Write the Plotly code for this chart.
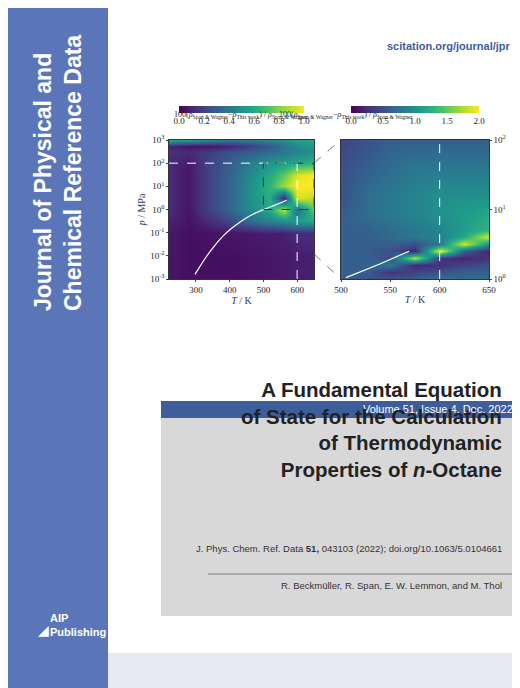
import plotly.graph_objects as go

# left panel grid: T / K and log10(p / MPa)
t_left = [220, 280, 340, 400, 460, 520, 560, 600, 650]
lp_left = [-3, -2, -1, -0.5, 0, 0.5, 1, 1.5, 2, 2.5, 2.75, 3]
z_left = [
    [.06, .04, .04, .04, .05, .06, .07, .08, .09],
    [.06, .04, .04, .04, .05, .06, .07, .08, .09],
    [.07, .04, .05, .06, .07, .08, .09, .12, .14],
    [.10, .05, .12, .22, .35, .45, .50, .55, .60],
    [.12, .06, .20, .32, .48, .60, .90, .35, .75],
    [.12, .06, .20, .32, .50, .62, .10, .95, .90],
    [.12, .06, .20, .32, .50, .65, .85, 1.0, 1.0],
    [.12, .06, .20, .32, .48, .60, .75, .95, 1.0],
    [.12, .07, .20, .30, .42, .52, .55, .60, .65],
    [.14, .12, .18, .25, .30, .35, .40, .45, .50],
    [.10, .05, .06, .10, .18, .28, .38, .48, .55],
    [.60, .55, .45, .40, .42, .45, .50, .55, .60],
]

# right panel (zoom) grid
t_right = [500, 525, 550, 575, 600, 625, 650]
lp_right = [0, 0.1, 0.2, 0.3, 0.4, 0.5, 0.6, 0.7, 0.9, 1.2, 1.6, 2]
z_right = [
    [.6, .5, .5, .6, .7, .7, .7],
    [.6, .6, .3, .4, .5, .6, .6],
    [.6, .6, .8, .2, .3, .4, .5],
    [.6, .6, .5, 1.8, .3, .2, .3],
    [.6, .6, .5, .2, 2.0, .6, .2],
    [.6, .6, .6, .5, .8, 1.9, 1.0],
    [.6, .6, .7, .8, .9, 1.2, 1.9],
    [.6, .6, .7, .8, .9, 1.1, 1.3],
    [.6, .7, .8, .9, 1.0, 1.1, 1.2],
    [.5, .7, .8, .9, 1.0, 1.0, 1.0],
    [.5, .6, .7, .8, .8, .8, .8],
    [.4, .5, .6, .6, .6, .6, .6],
]

# vapour pressure curve
t_vap = [297, 310, 330, 356, 380, 405, 430, 455, 480, 505, 540, 569]
lp_vap = [-2.8, -2.5, -2.05, -1.55, -1.15, -0.82, -0.55, -0.31, -0.13, 0.02, 0.22, 0.4]

W, H = 520, 688
def fx(px): return px / W
def fy(py): return 1 - py / H

serif = "Liberation Serif"
sans = "Liberation Sans"

fig = go.Figure()
fig.add_trace(go.Heatmap(x=t_left, y=lp_left, z=z_left, zsmooth="best", coloraxis="coloraxis",
                         xaxis="x", yaxis="y"))
fig.add_trace(go.Scatter(x=t_vap, y=lp_vap, mode="lines", line=dict(color="white", width=1.2, shape="spline"),
                         xaxis="x", yaxis="y", showlegend=False))
fig.add_trace(go.Heatmap(x=t_right, y=lp_right, z=z_right, zsmooth="best", coloraxis="coloraxis2",
                         xaxis="x2", yaxis="y2"))
fig.add_trace(go.Scatter(x=t_vap[9:], y=lp_vap[9:], mode="lines", line=dict(color="white", width=1.2),
                         xaxis="x2", yaxis="y2", showlegend=False))

cb_title = "100(<i>ρ</i><sub>Span & Wagner</sub>−<i>ρ</i><sub>This work</sub>) / <i>ρ</i><sub>Span & Wagner</sub>"
def cbar(x0, x1):
    return dict(orientation="h", x=fx((x0 + x1) / 2), xanchor="center", len=fx(x1 - x0), lenmode="fraction",
                y=fy(125), yanchor="bottom", thickness=7, outlinewidth=0,
                ticklabelposition="outside top", ticks="", tickfont=dict(family=serif, size=9, color="#222"))

ax_common = dict(showgrid=False, zeroline=False, ticks="outside", ticklen=2, mirror=True, showline=True,
                 linecolor="#333", linewidth=0.6, tickfont=dict(family=serif, size=9, color="#222"))
fig.update_layout(
    width=W, height=H, margin=dict(l=0, r=0, t=0, b=0, autoexpand=False), paper_bgcolor="white", plot_bgcolor="white",
    showlegend=False,
    coloraxis=dict(colorscale="Viridis", cmin=0, cmax=1, colorbar=dict(**cbar(161, 306), tickvals=[0, .2, .4, .6, .8, 1], ticktext=["0.0", "0.2", "0.4", "0.6", "0.8", "1.0"])),
    coloraxis2=dict(colorscale="Viridis", cmin=0, cmax=2, colorbar=dict(**cbar(333, 481), tickvals=[0, .5, 1, 1.5, 2], ticktext=["0.0", "0.5", "1.0", "1.5", "2.0"])),
    xaxis=dict(domain=[fx(161), fx(306)], range=[220, 650], tickvals=[300, 400, 500, 600], anchor="y",
               title=dict(text="<i>T</i> / K", font=dict(family=serif, size=10), standoff=2), **ax_common),
    yaxis=dict(domain=[fy(271), fy(132)], range=[-3, 3], anchor="x", tickvals=list(range(-3, 4)),
               ticktext=[f"10<sup>{k}</sup>" for k in range(-3, 4)],
               title=dict(text="<i>p</i> / MPa", font=dict(family=serif, size=10), standoff=2), **ax_common),
    xaxis2=dict(domain=[fx(333), fx(481)], range=[500, 650], tickvals=[500, 550, 600, 650], anchor="y2",
                title=dict(text="<i>T</i> / K", font=dict(family=serif, size=10), standoff=2), **ax_common),
    yaxis2=dict(domain=[fy(271), fy(132)], range=[0, 2], anchor="x2", side="right", tickvals=[0, 1, 2],
                ticktext=["10<sup>0</sup>", "10<sup>1</sup>", "10<sup>2</sup>"], **ax_common),
)

shapes = [
    # cover blocks
    dict(type="rect", xref="paper", yref="paper", x0=0, x1=fx(100), y0=0, y1=1, fillcolor="#5a76b8", line_width=0, layer="below"),
    dict(type="rect", xref="paper", yref="paper", x0=fx(100), x1=1, y0=0, y1=fy(645), fillcolor="#e8eaf3", line_width=0, layer="below"),
    dict(type="rect", xref="paper", yref="paper", x0=fx(153), x1=1, y0=fy(608), y1=fy(410), fillcolor="#d9d8d8", line_width=0, layer="below"),
    dict(type="rect", xref="paper", yref="paper", x0=fx(153), x1=1, y0=fy(410), y1=fy(393), fillcolor="#3d5d9b", line_width=0, layer="below"),
    dict(type="line", xref="paper", yref="paper", x0=fx(200), x1=fx(505), y0=fy(566), y1=fy(566), line=dict(color="#555", width=0.7)),
    # left panel guides
    dict(type="line", xref="x", yref="y", x0=220, x1=600, y0=2, y1=2, line=dict(color="white", width=1, dash="dash")),
    dict(type="line", xref="x", yref="y", x0=600, x1=600, y0=-3, y1=2, line=dict(color="white", width=1, dash="dash")),
    dict(type="rect", xref="x", yref="y", x0=500, x1=650, y0=0, y1=2, line=dict(color="#222", width=0.8, dash="dash")),
    dict(type="line", xref="x2", yref="y2", x0=600, x1=600, y0=0, y1=2, line=dict(color="white", width=1, dash="dash")),
    # connectors
    dict(type="line", xref="paper", yref="paper", x0=fx(306), x1=fx(333), y0=fy(155), y1=fy(132), line=dict(color="#555", width=0.8, dash="dash")),
    dict(type="line", xref="paper", yref="paper", x0=fx(306), x1=fx(333), y0=fy(246), y1=fy(271), line=dict(color="#555", width=0.8, dash="dash")),
]
fig.update_layout(shapes=shapes)

ann = [
    dict(x=fx(233), y=fy(100), text=cb_title, font=dict(family=serif, size=8, color="#222")),
    dict(x=fx(407), y=fy(100), text=cb_title, font=dict(family=serif, size=8, color="#222")),
    dict(x=fx(505), y=fy(30), text="<b>scitation.org/journal/jpr</b>", xanchor="right", font=dict(family=sans, size=11, color="#3d5d9b")),
    dict(x=fx(50), y=fy(305), text="<b>Journal of Physical and<br>Chemical Reference Data</b>", textangle=-90,
         xanchor="center", yanchor="bottom", align="left", font=dict(family=sans, size=23, color="white")),
    dict(x=fx(507), y=fy(401), text="Volume 51, Issue 4, Dec. 2022", xanchor="right", font=dict(family=sans, size=11, color="white")),
    dict(x=fx(496), y=fy(475), text="<b>A Fundamental Equation<br>of State for the Calculation<br>of Thermodynamic<br>Properties of <i>n</i>-Octane</b>",
         xanchor="right", align="right", font=dict(family=sans, size=20.5, color="#222")),
    dict(x=fx(496), y=fy(548), text="J. Phys. Chem. Ref. Data <b>51,</b> 043103 (2022); doi.org/10.1063/5.0104661", xanchor="right",
         font=dict(family=sans, size=9.5, color="#333")),
    dict(x=fx(496), y=fy(585), text="R. Beckmüller, R. Span, E. W. Lemmon, and M. Thol", xanchor="right",
         font=dict(family=sans, size=9.5, color="#333")),
    dict(x=fx(40), y=fy(632), text="<b>AIP<br>Publishing</b>", xanchor="left", align="left",
         font=dict(family=sans, size=11, color="white")),
    dict(x=fx(28), y=fy(632), text="◢", font=dict(family=sans, size=14, color="white")),
]
for a in ann:
    a.setdefault("xref", "paper"); a.setdefault("yref", "paper"); a.setdefault("showarrow", False)
fig.update_layout(annotations=ann)

fig.write_html("out.html")
